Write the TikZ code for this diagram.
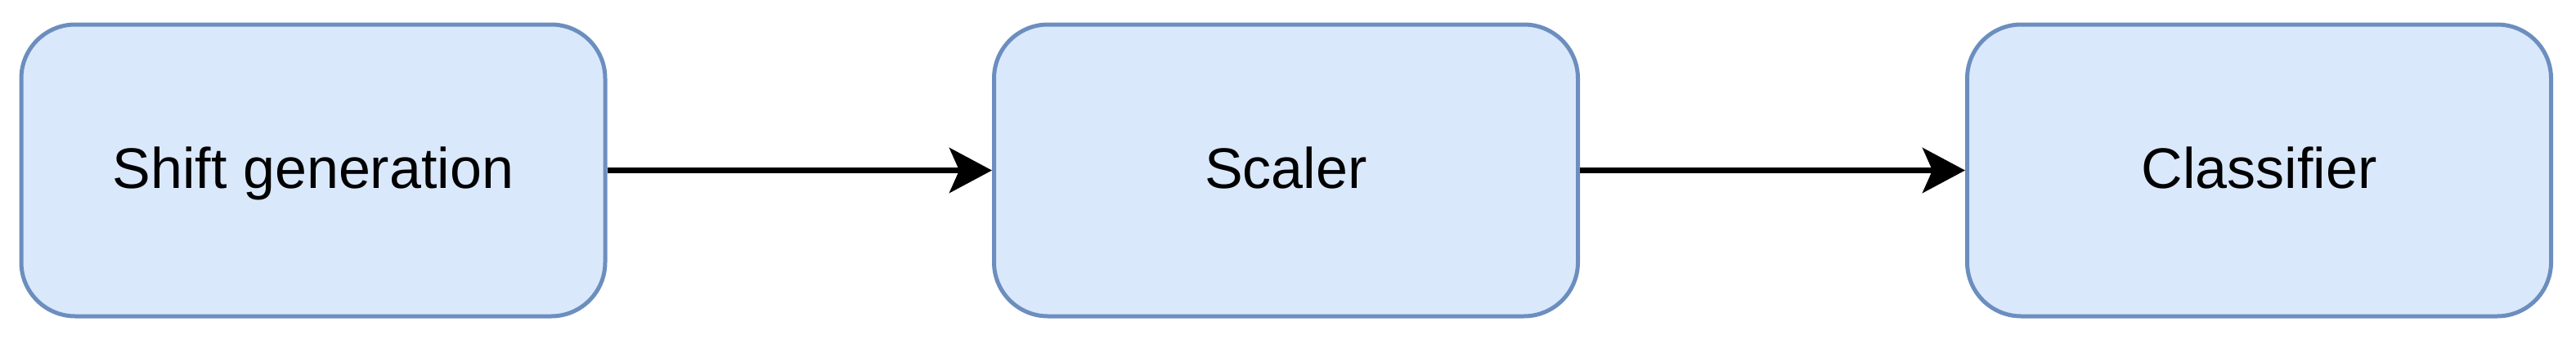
\documentclass[tikz,border=0pt]{standalone}
\usepackage{fontspec}
\setmainfont{Liberation Sans}
\usetikzlibrary{arrows.meta}
\definecolor{boxfill}{HTML}{DAE8FC}
\definecolor{boxdraw}{HTML}{6C8EBF}
\begin{document}
\begin{tikzpicture}[x=1pt,y=1pt,
  stagebox/.style={draw=boxdraw, fill=boxfill, line width=2.5pt, rounded corners=33pt,
    minimum width=357pt, minimum height=178.5pt, inner sep=0pt,
    font=\fontsize{35}{42}\selectfont, text height=21.5pt, text depth=0pt},
  flow/.style={line width=3.5pt, -{Stealth[length=26pt, width=27.5pt, inset=6pt]}}]
\useasboundingbox (0,0) rectangle (1575,210);
\node[stagebox] (shift) at (191.5,105.75) {Shift generation};
\node[stagebox] (scaler) at (786.25,105.75) {Scaler};
\node[stagebox] (classifier) at (1381.25,105.75) {Classifier};
\draw[flow] (shift.east) -- (scaler.west);
\draw[flow] (scaler.east) -- (classifier.west);
\end{tikzpicture}
\end{document}
